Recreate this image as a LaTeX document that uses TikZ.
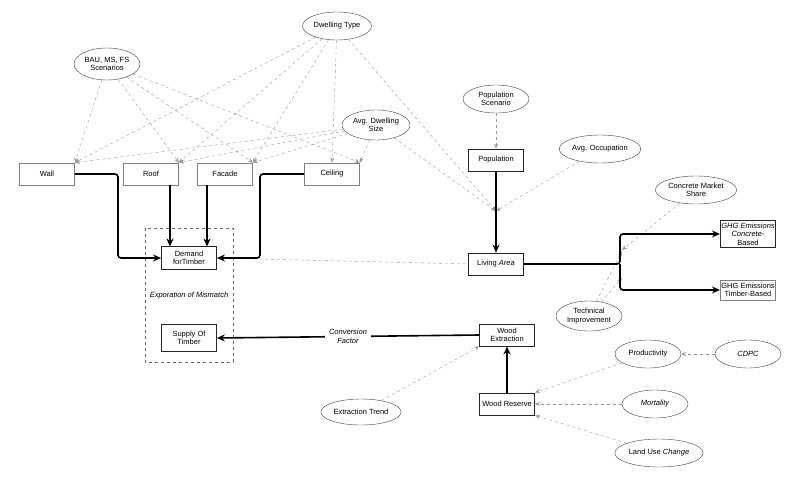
\documentclass[tikz,border=0pt]{standalone}
\usepackage{fontspec}
\setmainfont{Liberation Sans}
\usetikzlibrary{arrows.meta,shapes.geometric}
\begin{document}
\begin{tikzpicture}[x=1pt,y=-1pt,
  every node/.style={font=\fontsize{7.5}{8.5}\selectfont,align=center,inner sep=1pt},
  ell/.style={ellipse,draw=black!75,fill=white,minimum width=66pt,minimum height=28pt},
  gbox/.style={draw=black!50,thick,minimum width=55pt,minimum height=22pt,fill=white},
  bbox/.style={draw=black!85,thick,minimum width=55pt,minimum height=22pt,fill=white},
  dep/.style={draw=black!40,dashed,-{Stealth[length=5pt,width=4pt]}},
  flow/.style={draw=black,line width=1.6pt,rounded corners=3pt,-{Stealth[length=8pt,width=7pt]}}]
\useasboundingbox (0,0) rectangle (800,479);
% nodes
\node[ell] (dt) at (337,26) {Dwelling Type};
\node[ell,minimum height=32pt] (bau) at (107,64) {BAU, MS, FS\\Scenarios};
\node[ell,minimum height=30pt] (ads) at (376,125) {Avg. Dwelling\\Size};
\node[gbox] (wall) at (47,174) {Wall};
\node[gbox] (roof) at (151,174) {Roof};
\node[gbox] (facade) at (225,174) {Facade};
\node[gbox] (ceil) at (332,174) {Ceiling};
\node[bbox,minimum height=23pt] (dem) at (189,258) {Demand\\forTimber};
\node[bbox,minimum height=27pt] (sup) at (189,338) {Supply Of\\Timber};
\draw[black!60,dashed] (145,228) rectangle (233,362);
\node (exp) at (189,296) {\itshape Exporation of Mismatch};
\node[ell] (ps) at (496,99) {Population\\Scenario};
\node[bbox] (pop) at (496,160) {Population};
\node[ell] (ao) at (600,149) {Avg. Occupation};
\coordinate (cv) at (496,211);
\node[bbox] (la) at (496,264) {Living \textit{Area}};
\node[ell,minimum width=72pt] (cms) at (696,190) {Concrete Market\\Share};
\node[bbox,minimum height=27pt] (ghgc) at (748,234) {\textit{GHG Emissions}\\\textit{Concrete-}\\Based};
\node[gbox,minimum height=20pt] (ghgt) at (748,290) {GHG Emissions\\Timber-Based};
\coordinate (br) at (620,264);
\node[ell,minimum height=30pt] (ti) at (589,316) {Technical\\Improvement};
\node[bbox] (we) at (507,335) {Wood\\Extraction};
\node[bbox] (wr) at (507,404) {Wood Reserve};
\node[ell] (prod) at (648,354) {Productivity};
\node[ell] (cdpc) at (748,354) {\itshape CDPC};
\node[ell] (mort) at (655,404) {\itshape Mortality};
\node[ell] (luc) at (659,453) {Land Use \textit{Change}};
\node[ell,minimum height=26pt] (et) at (361,412) {Extraction Trend};
% dashed dependencies
\foreach \t/\a in {wall/-75,roof/-80,facade/-100,ceil/-120}{\draw[dep] (bau) -- (\t.north east);}
\draw[dep] (dt) -- (wall.north east);
\draw[dep] (dt) -- (roof.north east);
\draw[dep] (dt) -- (facade.north east);
\draw[dep] (dt) -- (ceil.north);
\draw[dep] (dt) -- (cv);
\draw[dep] (ads) -- (wall.north east);
\draw[dep] (ads) -- (roof.north east);
\draw[dep] (ads) -- (facade.north east);
\draw[dep] (ads) -- (ceil.north east);
\draw[dep] (ads) -- (cv);
\draw[dep] (ao) -- (cv);
\draw[dep] (ps) -- (pop);
\draw[black!40,dashed] (dem.east) -- (la.west);
\draw[dep] (cms) -- (622,250);
\draw[dep] (ti) -- (622,251);
\draw[dep] (ti) -- (622,278);
\draw[dep] (et) -- (we.south west);
\draw[dep] (cdpc) -- (prod);
\draw[dep] (prod) -- (wr.north east);
\draw[dep] (mort) -- (wr);
\draw[dep] (luc) -- (wr.south east);
% solid flows
\draw[flow] (wall.east) -| (118,258) -- (dem.west);
\draw[flow] (170,185) -- (170,246.5);
\draw[flow] (207,185) -- (207,246.5);
\draw[flow] (ceil.west) -| (260,258) -- (dem.east);
\draw[flow] (pop) -- (la);
\draw[flow] (la.east) -- (br) |- (ghgc.west);
\draw[flow] (br) |- (ghgt.west);
\draw[flow] (wr) -- (we);
\draw[flow] (we.west) -- node[fill=white,inner sep=4pt]{\itshape Conversion\\\itshape Factor} (sup.east);
\end{tikzpicture}
\end{document}
